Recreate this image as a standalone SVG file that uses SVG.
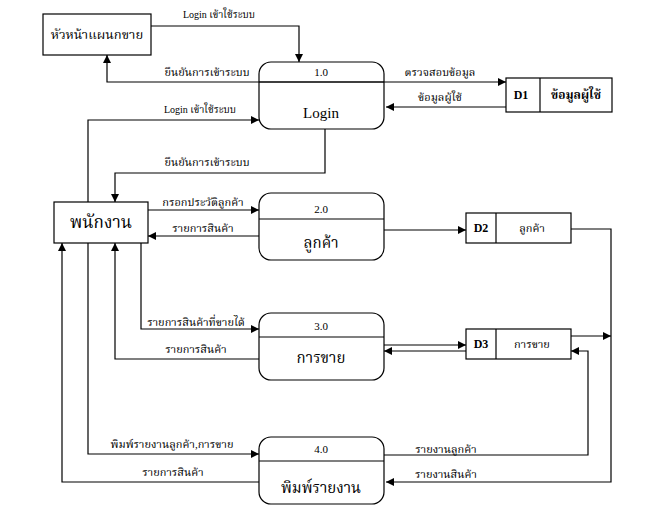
<svg xmlns="http://www.w3.org/2000/svg" width="651" height="514" viewBox="0 0 651 514">
<defs>
<marker id="a" viewBox="0 0 10 10" refX="10" refY="5" markerWidth="8" markerHeight="8" markerUnits="userSpaceOnUse" orient="auto"><path d="M0,0L10,5L0,10z" style="fill:#000;stroke:none"/></marker>
<style>
rect,path,line{fill:none;stroke:#000;stroke-width:1.2}
.c path{marker-end:url(#a)}
text{font-family:"Liberation Serif","Noto Serif Thai","Noto Sans Thai","DejaVu Sans",serif;fill:#000;text-anchor:middle}
.l{font-size:11px}
.n{font-size:15px}
.s{font-size:12px;font-weight:bold}
</style>
</defs>
<rect width="651" height="514" style="fill:#fff;stroke:none"/>
<g id="head"><rect x="43" y="14" width="108" height="41"/><text class="n" x="97" y="39" style="font-size:13px">หัวหน้าแผนกขาย</text></g>
<g id="staff"><rect x="54" y="202" width="94" height="41"/><text class="n" x="101" y="228" style="font-size:17px">พนักงาน</text></g>
<g id="p1"><rect x="259" y="62" width="125" height="67" rx="12"/><text class="l" x="321" y="76">1.0</text><text class="n" x="321" y="118">Login</text></g>
<g id="p2"><rect x="259" y="193" width="125" height="67" rx="12"/><line x1="259" y1="219" x2="384" y2="219"/><text class="l" x="321" y="213">2.0</text><text class="n" x="321" y="248">ลูกค้า</text></g>
<g id="p3"><rect x="259" y="313" width="125" height="67" rx="12"/><line x1="259" y1="337" x2="384" y2="337"/><text class="l" x="321" y="330">3.0</text><text class="n" x="321" y="363">การขาย</text></g>
<g id="p4"><rect x="259" y="437" width="125" height="67" rx="12"/><line x1="259" y1="461" x2="384" y2="461"/><text class="l" x="321" y="453">4.0</text><text class="n" x="321" y="493">พิมพ์รายงาน</text></g>
<g id="d1"><rect x="506" y="78" width="106" height="34"/><line x1="540" y1="78" x2="540" y2="112"/><text class="s" x="521" y="99">D1</text><text class="s" x="576" y="99">ข้อมูลผู้ใช้</text></g>
<g id="d2"><rect x="466" y="213" width="105" height="30"/><line x1="496" y1="213" x2="496" y2="243"/><text class="s" x="481" y="232">D2</text><text class="l" x="532" y="232">ลูกค้า</text></g>
<g id="d3"><rect x="466" y="329" width="105" height="30"/><line x1="496" y1="329" x2="496" y2="359"/><text class="s" x="481" y="348">D3</text><text class="l" x="532" y="348">การขาย</text></g>
<g id="connectors" class="c">
<path d="M151,26H299V62"/>
<path d="M259,82H107V55"/>
<path d="M259,82H506"/>
<line x1="259" y1="82" x2="384" y2="82"/>
<path d="M506,107H386"/>
<path d="M88,202V120H259"/>
<path d="M325,129V173H115V202"/>
<path d="M148,210H259"/>
<path d="M259,236H148"/>
<path d="M384,230H466"/>
<path d="M571,229H611V482H386"/>
<path d="M571,336H611"/>
<path d="M141,243V329H259"/>
<path d="M259,359H115V243"/>
<path d="M384,345H466"/>
<path d="M466,351H384"/>
<path d="M88,243V454H259"/>
<path d="M259,482H62V243"/>
<path d="M384,455H588V351H571"/>
</g>
<g id="labels" class="l">
<text x="219" y="18" style="font-size:10px">Login เข้าใช้ระบบ</text>
<text x="207" y="76">ยืนยันการเข้าระบบ</text>
<text x="440" y="76">ตรวจสอบข้อมูล</text>
<text x="440" y="101">ข้อมูลผู้ใช้</text>
<text x="200" y="113" style="font-size:10px">Login เข้าใช้ระบบ</text>
<text x="207" y="166">ยืนยันการเข้าระบบ</text>
<text x="203" y="206">กรอกประวัติลูกค้า</text>
<text x="203" y="232">รายการสินค้า</text>
<text x="196" y="326">รายการสินค้าที่ขายได้</text>
<text x="196" y="353">รายการสินค้า</text>
<text x="172" y="448">พิมพ์รายงานลูกค้า,การขาย</text>
<text x="173" y="476">รายการสินค้า</text>
<text x="446" y="453">รายงานลูกค้า</text>
<text x="446" y="478">รายงานสินค้า</text>
</g>
</svg>
